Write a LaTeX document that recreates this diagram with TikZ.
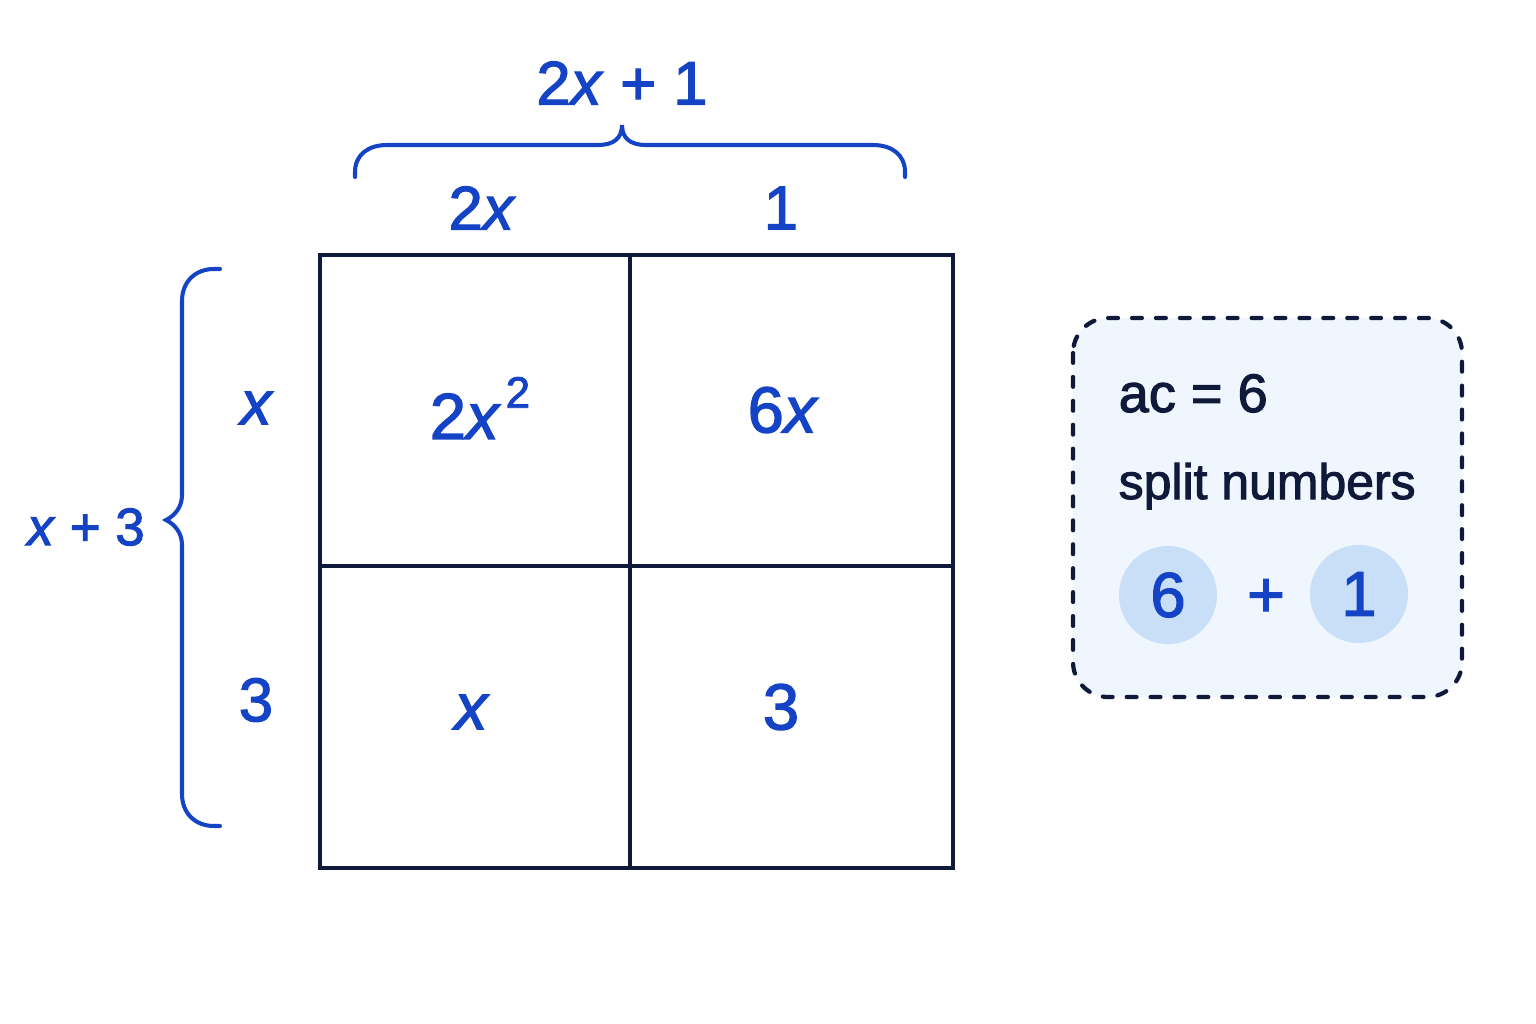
\documentclass[tikz,border=0pt]{standalone}
\usepackage{fontspec}
\setmainfont{Liberation Sans}[FakeBold=2]
\definecolor{ink}{HTML}{0F1A3A}
\definecolor{bluetxt}{HTML}{1443C6}
\definecolor{boxfill}{HTML}{EFF6FE}
\definecolor{chipfill}{HTML}{C9DFF8}
\tikzset{
  lbl/.style={text=bluetxt,inner sep=0pt,font=\fontsize{17.5}{20}\selectfont},
  small/.style={text=bluetxt,inner sep=0pt,font=\fontsize{15}{18}\selectfont},
  cell/.style={text=bluetxt,inner sep=0pt,font=\fontsize{18.5}{22}\selectfont},
  note/.style={text=ink,inner sep=0pt,anchor=base west},
  brace/.style={draw=bluetxt,line width=1.15pt,line cap=round},
  chip/.style={circle,fill=chipfill,minimum size=0.98cm,inner sep=0pt,text=bluetxt,font=\fontsize{18}{20}\selectfont},
}
\newcommand{\vx}{\textit{x}}
\newcommand{\sq}{\kern0.08em\raisebox{0.48em}{\fontsize{12.5}{14}\selectfont 2}}
\begin{document}
\begin{tikzpicture}[x=0.01cm,y=-0.01cm]
\useasboundingbox[fill=white] (0,0) rectangle (1536,1024);
% area grid
\draw[ink,line width=1.35pt] (320,255) rectangle (953,868);
\draw[ink,line width=1.35pt] (630,255) -- (630,868) (320,566) -- (953,566);
% braces
\draw[brace] (355,177) -- (355,172) .. controls (355,155) and (368,145) .. (387,145) -- (598,145)
  .. controls (614,145) and (622,138) .. (622,125) .. controls (622,138) and (630,145) .. (646,145)
  -- (873,145) .. controls (892,145) and (905,155) .. (905,172) -- (905,177);
\draw[brace] (220,269) -- (214,269) .. controls (195,269) and (182,282) .. (182,301) -- (182,495)
  .. controls (182,508) and (174,516) .. (166,520) .. controls (174,524) and (182,532) .. (182,545)
  -- (182,794) .. controls (182,813) and (195,826) .. (214,826) -- (220,826);
% labels
\node[lbl] (top) at (622,83) {2\vx{} + 1};
\node[lbl] (colA) at (482,208) {2\vx};
\node[lbl] (colB) at (781,208) {1};
\node[small] (side) at (86,527) {\vx{} + 3};
\node[lbl] (rowA) at (257,408) {\vx};
\node[lbl] (rowB) at (256,700) {3};
% cells
\node[cell] (aa) at (480,408) {2\vx\sq};
\node[cell] (ab) at (783,410) {6\vx};
\node[cell] (ba) at (472,712) {\vx};
\node[cell] (bb) at (781,707) {3};
% side box
\draw[ink,line width=1.2pt,line cap=round,fill=boxfill,rounded corners=0.35cm,dash pattern=on 2.8pt off 4pt] (1073,318) rectangle (1462,697);
\node[note,font=\fontsize{15.4}{18}\selectfont] (ac) at (1118,412) {ac = 6};
\node[note,font=\fontsize{14.2}{17}\selectfont] (split) at (1118,499) {split numbers};
\node[chip] (six) at (1168,595) {6};
\node[chip] (one) at (1359,594) {1};
\node[cell] (plus) at (1266,598) {+};
\end{tikzpicture}
\end{document}
